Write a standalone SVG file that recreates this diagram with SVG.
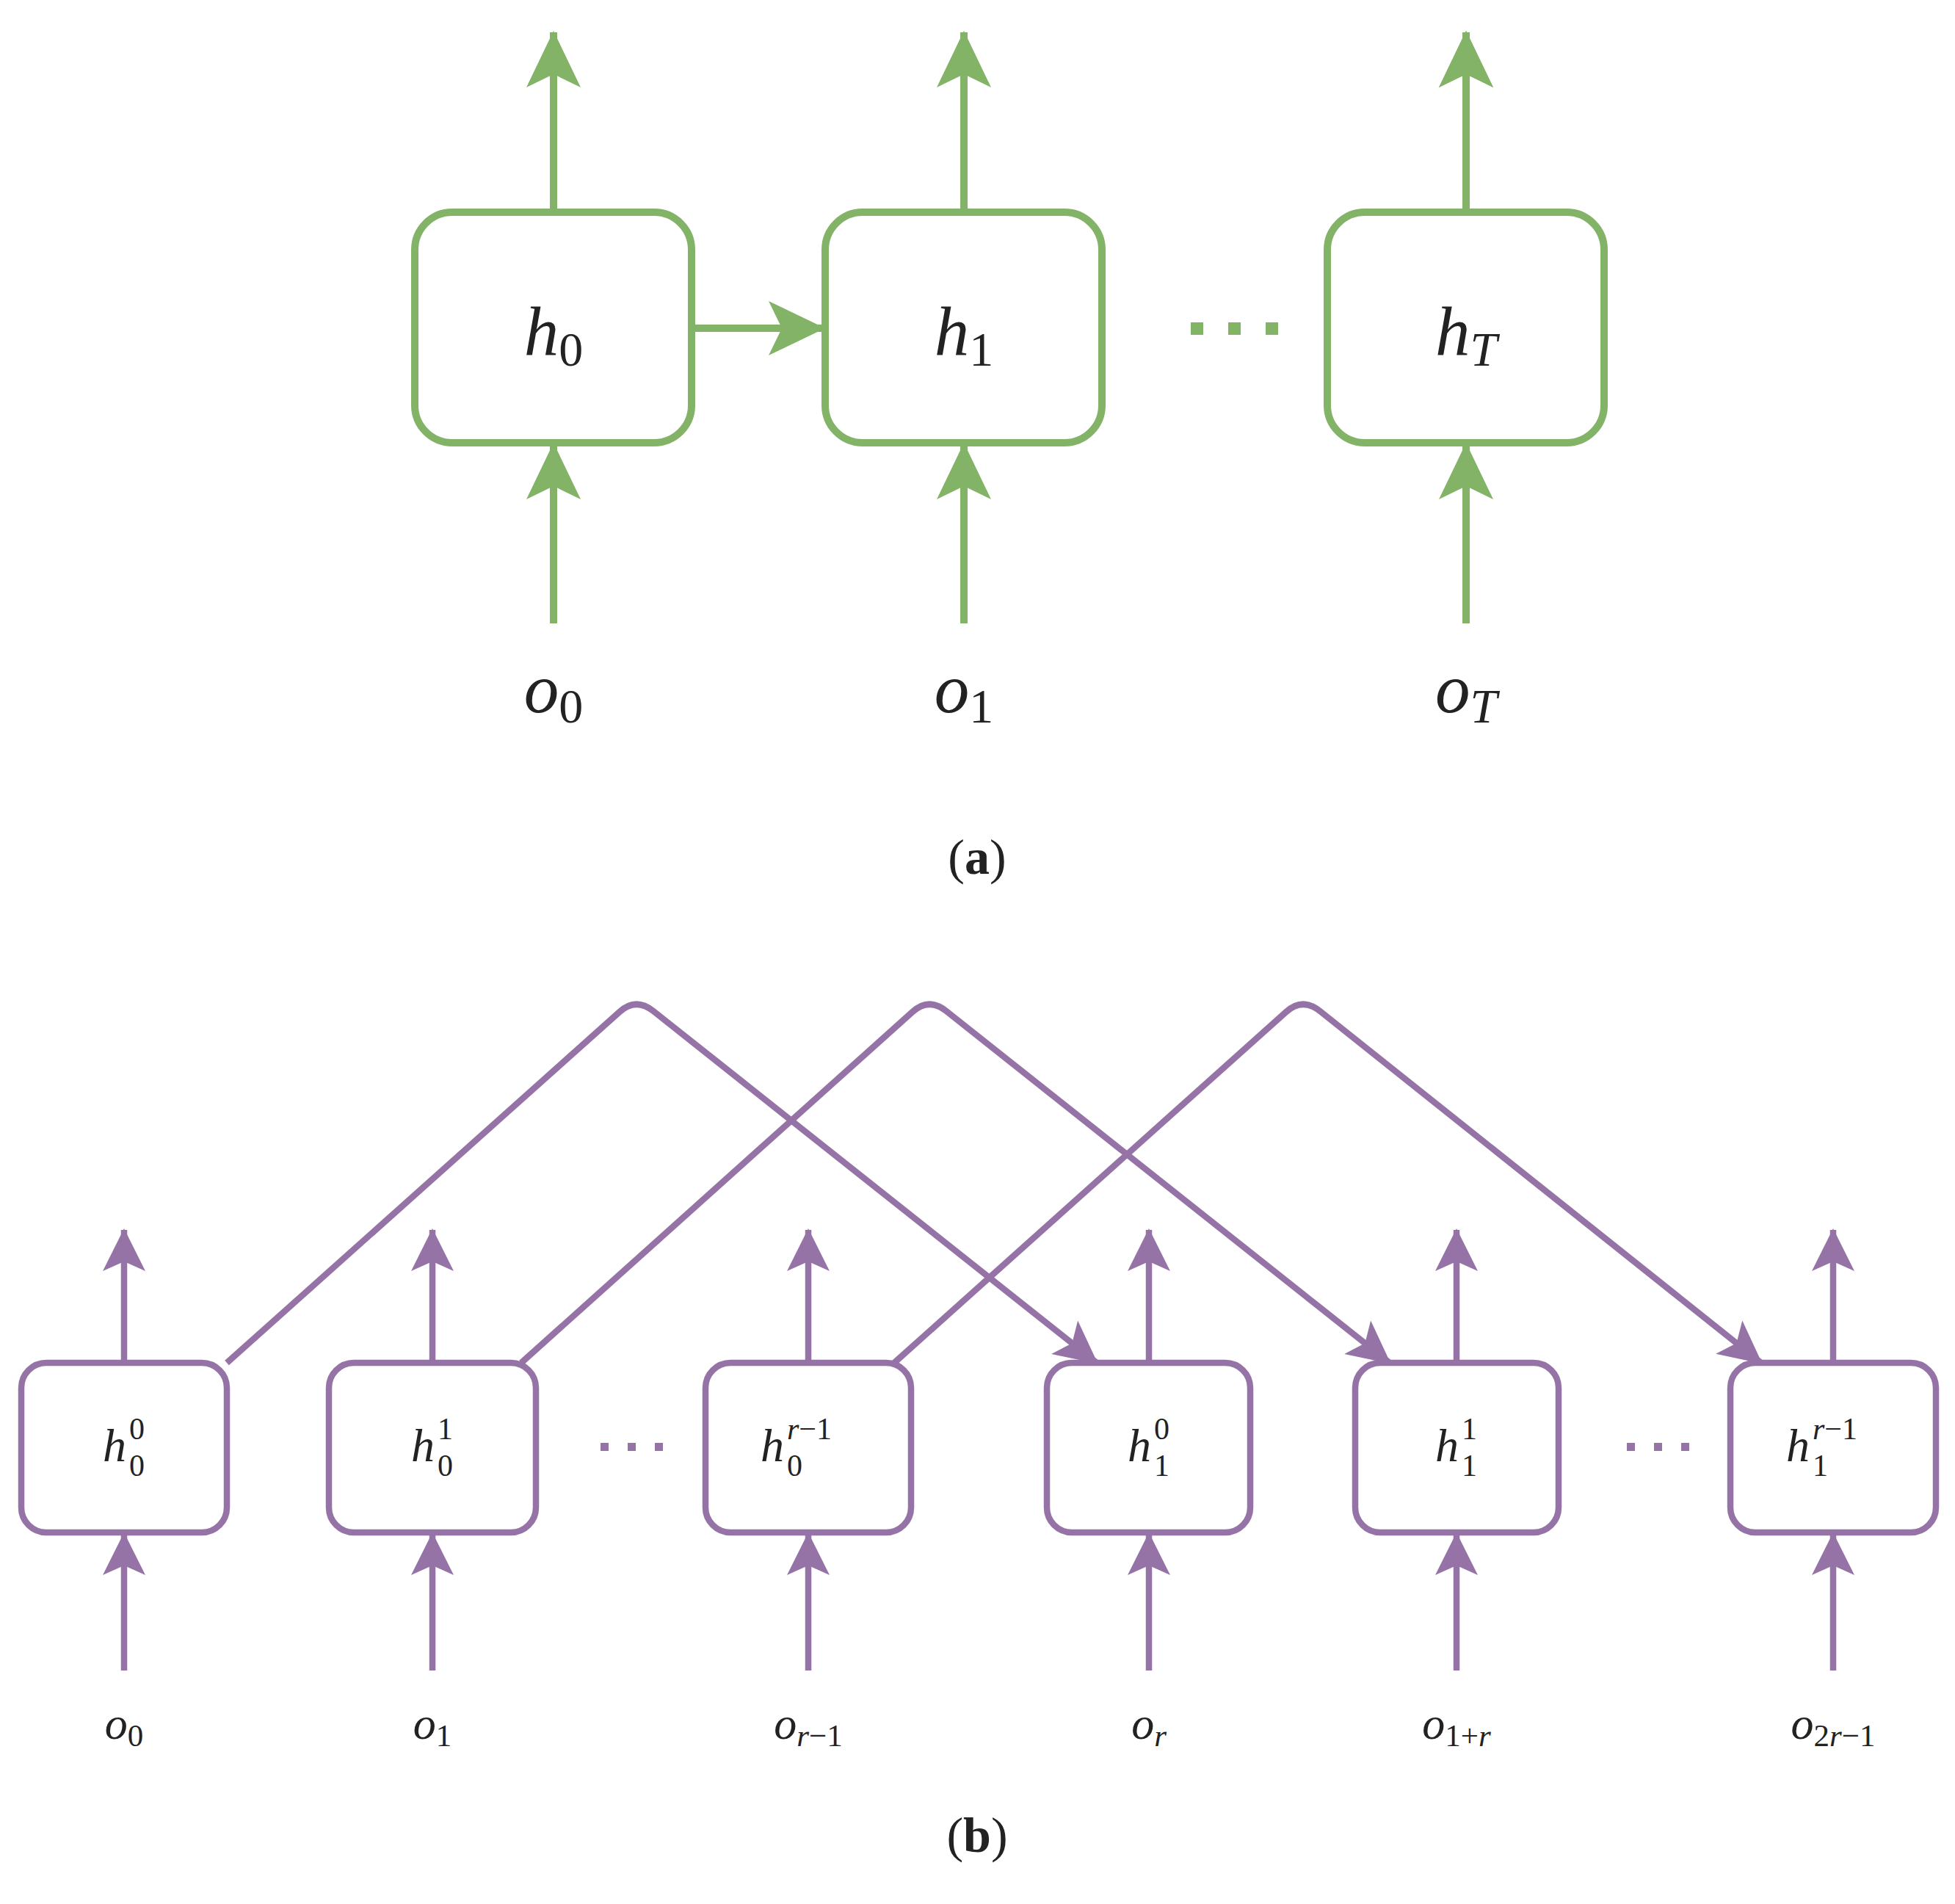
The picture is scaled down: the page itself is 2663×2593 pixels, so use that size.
<svg xmlns="http://www.w3.org/2000/svg" width="2663" height="2593" viewBox="0 0 2663 2593">
<style>
.g{fill:none;stroke:#82b366;stroke-width:10}
.p{fill:none;stroke:#9673a6;stroke-width:8.5}
.t{font-family:"Liberation Serif",serif;fill:#222}
.i{font-style:italic}
</style>
<defs>
<marker id="ag" markerUnits="userSpaceOnUse" viewBox="0 0 77 74" refX="75" refY="37" markerWidth="77" markerHeight="74" orient="auto"><path d="M77,37 L0,0 L18,37 L0,74 Z" fill="#82b366"/></marker>
<marker id="ap" markerUnits="userSpaceOnUse" viewBox="0 0 58 58" refX="56" refY="29" markerWidth="58" markerHeight="58" orient="auto"><path d="M58,29 L0,0 L13,29 L0,58 Z" fill="#9673a6"/></marker>
</defs>
<rect width="2663" height="2593" fill="#fff"/>
<g id="connectors">
<path class="g" d="M754,289V44M1313,289V44M1997,289V44" marker-end="url(#ag)"/>
<path class="g" d="M754,849V605" marker-end="url(#ag)"/>
<path class="g" d="M1313,849V605" marker-end="url(#ag)"/>
<path class="g" d="M1997,849V605" marker-end="url(#ag)"/>
<path class="g" d="M754,289V44" marker-end="url(#ag)"/>
<path class="g" d="M1313,289V44" marker-end="url(#ag)"/>
<path class="g" d="M1997,289V44" marker-end="url(#ag)"/>
<path class="g" d="M942,447H1122" marker-end="url(#ag)"/>
<g fill="#82b366"><rect x="1622" y="439" width="17" height="17"/><rect x="1673" y="439" width="17" height="17"/><rect x="1724" y="439" width="17" height="17"/></g>
<path class="p" d="M169,1856V1675" marker-end="url(#ap)"/>
<path class="p" d="M589,1856V1675" marker-end="url(#ap)"/>
<path class="p" d="M1101,1856V1675" marker-end="url(#ap)"/>
<path class="p" d="M1565,1856V1675" marker-end="url(#ap)"/>
<path class="p" d="M1984,1856V1675" marker-end="url(#ap)"/>
<path class="p" d="M2497,1856V1675" marker-end="url(#ap)"/>
<path class="p" d="M169,2275V2089" marker-end="url(#ap)"/>
<path class="p" d="M589,2275V2089" marker-end="url(#ap)"/>
<path class="p" d="M1101,2275V2089" marker-end="url(#ap)"/>
<path class="p" d="M1565,2275V2089" marker-end="url(#ap)"/>
<path class="p" d="M1984,2275V2089" marker-end="url(#ap)"/>
<path class="p" d="M2497,2275V2089" marker-end="url(#ap)"/>
<path class="p" d="M309,1856L844,1378Q866,1358 890,1377L1494,1856" marker-end="url(#ap)"/>
<path class="p" d="M710,1856L1243,1378Q1265,1358 1289,1377L1893,1856" marker-end="url(#ap)"/>
<path class="p" d="M1218,1856L1752,1378Q1774,1358 1798,1377L2399,1856" marker-end="url(#ap)"/>
<g fill="#9673a6"><rect x="818" y="1965" width="11" height="11"/><rect x="855" y="1965" width="11" height="11"/><rect x="892" y="1965" width="11" height="11"/><rect x="2216" y="1965" width="11" height="11"/><rect x="2253" y="1965" width="11" height="11"/><rect x="2290" y="1965" width="11" height="11"/></g>
</g>
<g id="h0"><rect class="g" x="565" y="289" width="377" height="314" rx="51"/><text class="t" x="754" y="484" font-size="95" text-anchor="middle"><tspan class="i">h</tspan><tspan font-size="66" dy="14">0</tspan></text></g>
<g id="h1"><rect class="g" x="1124" y="289" width="377" height="314" rx="51"/><text class="t" x="1313" y="484" font-size="95" text-anchor="middle"><tspan class="i">h</tspan><tspan font-size="66" dy="14">1</tspan></text></g>
<g id="hT"><rect class="g" x="1808" y="289" width="377" height="314" rx="51"/><text class="t" x="1997" y="484" font-size="95" text-anchor="middle"><tspan class="i">h</tspan><tspan class="i" font-size="66" dy="14">T</tspan></text></g>
<g id="labels-a" class="t" font-size="95" text-anchor="middle">
<text x="754" y="970"><tspan class="i">o</tspan><tspan font-size="66" dy="14">0</tspan></text>
<text x="1313" y="970"><tspan class="i">o</tspan><tspan font-size="66" dy="14">1</tspan></text>
<text x="1997" y="970"><tspan class="i">o</tspan><tspan class="i" font-size="66" dy="14">T</tspan></text>
<text x="1331" y="1190" font-size="68">(<tspan font-weight="bold">a</tspan>)</text>
</g>
<g id="b00"><rect class="p" x="29" y="1856" width="280" height="231" rx="34"/><text class="t i" x="140" y="1990" font-size="64">h</text><text class="t" x="176" y="1960" font-size="42">0</text><text class="t" x="176" y="2010" font-size="42">0</text></g>
<g id="b01"><rect class="p" x="448" y="1856" width="282" height="231" rx="34"/><text class="t i" x="560" y="1990" font-size="64">h</text><text class="t" x="596" y="1960" font-size="42">1</text><text class="t" x="596" y="2010" font-size="42">0</text></g>
<g id="b0r"><rect class="p" x="961" y="1856" width="280" height="231" rx="34"/><text class="t i" x="1036" y="1990" font-size="64">h</text><text class="t" x="1072" y="1960" font-size="42"><tspan class="i">r</tspan>−1</text><text class="t" x="1072" y="2010" font-size="42">0</text></g>
<g id="b10"><rect class="p" x="1426" y="1856" width="277" height="231" rx="34"/><text class="t i" x="1536" y="1990" font-size="64">h</text><text class="t" x="1572" y="1960" font-size="42">0</text><text class="t" x="1572" y="2010" font-size="42">1</text></g>
<g id="b11"><rect class="p" x="1846" y="1856" width="277" height="231" rx="34"/><text class="t i" x="1955" y="1990" font-size="64">h</text><text class="t" x="1991" y="1960" font-size="42">1</text><text class="t" x="1991" y="2010" font-size="42">1</text></g>
<g id="b1r"><rect class="p" x="2357" y="1856" width="280" height="231" rx="34"/><text class="t i" x="2433" y="1990" font-size="64">h</text><text class="t" x="2469" y="1960" font-size="42"><tspan class="i">r</tspan>−1</text><text class="t" x="2469" y="2010" font-size="42">1</text></g>
<g id="labels-b" class="t" font-size="62" text-anchor="middle">
<text x="169" y="2368"><tspan class="i">o</tspan><tspan font-size="43" dy="10">0</tspan></text>
<text x="589" y="2368"><tspan class="i">o</tspan><tspan font-size="43" dy="10">1</tspan></text>
<text x="1101" y="2368"><tspan class="i">o</tspan><tspan font-size="43" dy="10"><tspan class="i">r</tspan>−1</tspan></text>
<text x="1565" y="2368"><tspan class="i">o</tspan><tspan font-size="43" dy="10" class="i">r</tspan></text>
<text x="1984" y="2368"><tspan class="i">o</tspan><tspan font-size="43" dy="10">1+<tspan class="i">r</tspan></tspan></text>
<text x="2497" y="2368"><tspan class="i">o</tspan><tspan font-size="43" dy="10">2<tspan class="i">r</tspan>−1</tspan></text>
<text x="1331" y="2522" font-size="68">(<tspan font-weight="bold">b</tspan>)</text>
</g>
</svg>
